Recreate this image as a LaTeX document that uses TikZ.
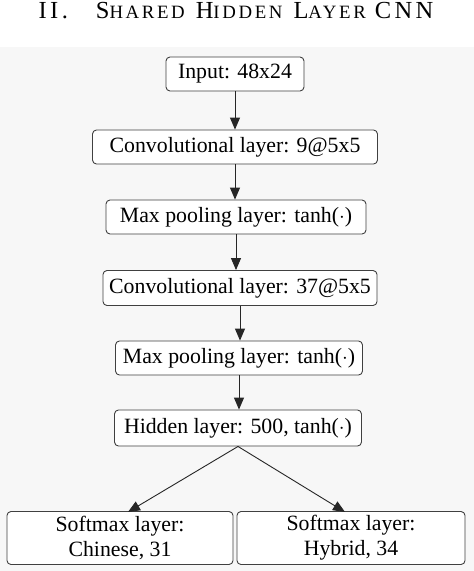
\documentclass[tikz,border=0pt]{standalone}
\usepackage{fontspec}
\setmainfont{Liberation Serif}
\newfontfamily\titlespaced[LetterSpace=14]{Liberation Serif}
\usetikzlibrary{arrows.meta}
\newcommand\TitleBig[1]{{\fontsize{24.5}{28}\selectfont #1}}
\newcommand\TitleSmall[1]{{\fontsize{18.8}{22}\selectfont #1}}
\tikzset{
  layerbox/.style={draw=black!75, line width=0.9pt, rounded corners=4pt, fill=white,
    inner sep=0pt, font=\fontsize{21.8}{25}\selectfont, align=center},
  flow/.style={draw=black!85, line width=0.9pt, -{Triangle[length=12pt,width=10pt]}},
}
\begin{document}
\begin{tikzpicture}[x=1pt,y=-1pt]
\useasboundingbox (0,0) rectangle (474,571);
\fill[black!3] (0,47) rectangle (474,571);
\node[inner sep=0pt, anchor=base, font=\titlespaced] (title) at (236,18)
  {\TitleBig{II.}\hspace{28pt}\TitleBig{S}\TitleSmall{HARED}\hspace{11pt}\TitleBig{H}\TitleSmall{IDDEN}\hspace{11pt}\TitleBig{L}\TitleSmall{AYER}\hspace{9pt}\TitleBig{CNN}};
\node[layerbox, minimum width=138pt, minimum height=34pt] (in) at (235,74) {Input: 48x24};
\node[layerbox, minimum width=285pt, minimum height=34pt] (c1) at (235,147) {Convolutional layer: 9@5x5};
\node[layerbox, minimum width=260pt, minimum height=34pt] (p1) at (236,217) {Max pooling layer: tanh($\cdot$)};
\node[layerbox, minimum width=274pt, minimum height=35pt] (c2) at (240,288) {Convolutional layer: 37@5x5};
\node[layerbox, minimum width=247pt, minimum height=34pt] (p2) at (239,358) {Max pooling layer: tanh($\cdot$)};
\node[layerbox, minimum width=247pt, minimum height=36pt] (h) at (238,428) {Hidden layer: 500, tanh($\cdot$)};
\node[layerbox, minimum width=226pt, minimum height=53pt] (s1) at (120,538) {Softmax layer:\\Chinese, 31};
\node[layerbox, minimum width=228pt, minimum height=53pt] (s2) at (351,538) {Softmax layer:\\Hybrid, 34};
\draw[flow] (in.south) -- (in.south |- c1.north);
\draw[flow] (c1.south) -- (c1.south |- p1.north);
\draw[flow] (p1.south) -- (p1.south |- c2.north);
\draw[flow] (c2.south) -- (c2.south |- p2.north);
\draw[flow] (p2.south) -- (p2.south |- h.north);
\coordinate (ltop) at (128,512);
\coordinate (rtop) at (345,512);
\draw[flow] (h.south) -- (ltop);
\draw[flow] (h.south) -- (rtop);
\end{tikzpicture}
\end{document}
